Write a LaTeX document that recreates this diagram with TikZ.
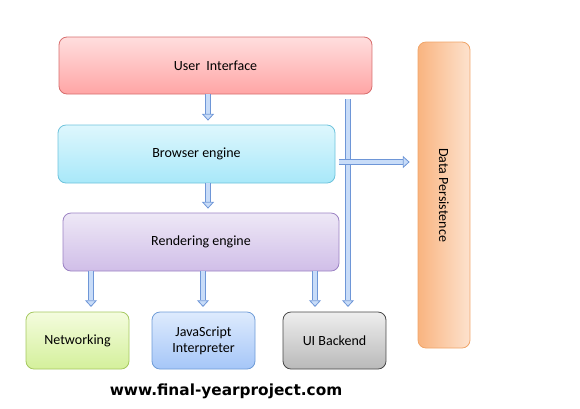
\documentclass[tikz,border=0pt]{standalone}
\usepackage{tikz}
\usetikzlibrary{shapes,arrows.meta,calc}
\usepackage{fontspec}
\setmainfont{Carlito}
\newfontfamily\markfont{DejaVu Sans}
\usepackage{xcolor}
\definecolor{flowline}{RGB}{110,150,215}
\definecolor{flowfill}{RGB}{200,220,248}

\begin{document}
\begin{tikzpicture}[x=0.75pt,y=-0.75pt,
        box/.style={draw, rounded corners=6pt, line width=0.6pt, minimum width=77.25pt, minimum height=42.75pt, align=center, font=\fontsize{10.5}{12}\selectfont},
        flow/.style={draw=flowline, double=flowfill, double distance=2.6pt, line width=0.6pt, -{Triangle[width=9pt,length=5pt,fill=flowfill,line width=0.6pt]}}]
        \useasboundingbox (0,0) rectangle (580,408);

        % Layers
        \node[box, draw={rgb,255:red,215;green,110;blue,110}, top color={rgb,255:red,255;green,222;blue,222}, bottom color={rgb,255:red,255;green,165;blue,165}, minimum width=234.75pt] (ui) at (215.5,65.5) {User\ \ Interface};
        \node[box, draw={rgb,255:red,110;green,195;blue,220}, top color={rgb,255:red,222;green,247;blue,253}, bottom color={rgb,255:red,168;green,232;blue,249}, minimum width=207.75pt, minimum height=43.5pt] (be) at (196.5,154) {Browser engine};
        \node[box, draw={rgb,255:red,155;green,130;blue,195}, top color={rgb,255:red,238;green,232;blue,246}, bottom color={rgb,255:red,208;green,190;blue,232}, minimum width=207pt, minimum height=43.5pt] (re) at (201,242) {Rendering engine};

        % Components
        \node[box, draw={rgb,255:red,165;green,200;blue,95}, top color={rgb,255:red,244;green,252;blue,222}, bottom color={rgb,255:red,212;green,240;blue,155}] (net) at (77.5,340.5) {Networking};
        \node[box, draw={rgb,255:red,110;green,155;blue,215}, top color={rgb,255:red,222;green,235;blue,253}, bottom color={rgb,255:red,165;green,198;blue,248}] (js) at (203.5,340.5) {JavaScript\\Interpreter};
        \node[box, draw={rgb,255:red,70;green,70;blue,70}, top color={rgb,255:red,238;green,238;blue,238}, bottom color={rgb,255:red,185;green,185;blue,185}] (uib) at (334.5,340.5) {UI Backend};

        % Storage
        \node[box, draw={rgb,255:red,240;green,165;blue,105}, left color={rgb,255:red,249;green,180;blue,128}, right color={rgb,255:red,253;green,226;blue,206}, minimum width=39pt, minimum height=229.5pt] (dp) at (444,195) {};
        \node[rotate=-90, font=\fontsize{10.5}{12}\selectfont] (dplabel) at (dp.center) {Data Persistence};

        % Arrows
        \draw[flow, shorten >=3pt] (ui.south -| 208,0) -- (be.north -| 208,0);
        \draw[flow, shorten >=3pt] (be.south -| 208,0) -- (re.north -| 208,0);
        \draw[flow, shorten >=3.5pt] (re.south -| 91,0) -- (net.north -| 91,0);
        \draw[flow, shorten >=3.5pt] (re.south -| 203,0) -- (js.north -| 203,0);
        \draw[flow, shorten >=3.5pt] (re.south -| 315,0) -- (uib.north -| 315,0);
        \draw[flow, shorten <=3.5pt, shorten >=3.5pt] (ui.south -| 348,0) -- (uib.north -| 348,0);
        \draw[flow, shorten <=3pt, shorten >=6pt] (be.east |- 0,162) -- (dp.west |- 0,162);

        % Watermark
        \node[font=\markfont\bfseries\fontsize{11.5}{13}\selectfont] (mark) at (226,391) {www.final-yearproject.com};
\end{tikzpicture}
\end{document}
